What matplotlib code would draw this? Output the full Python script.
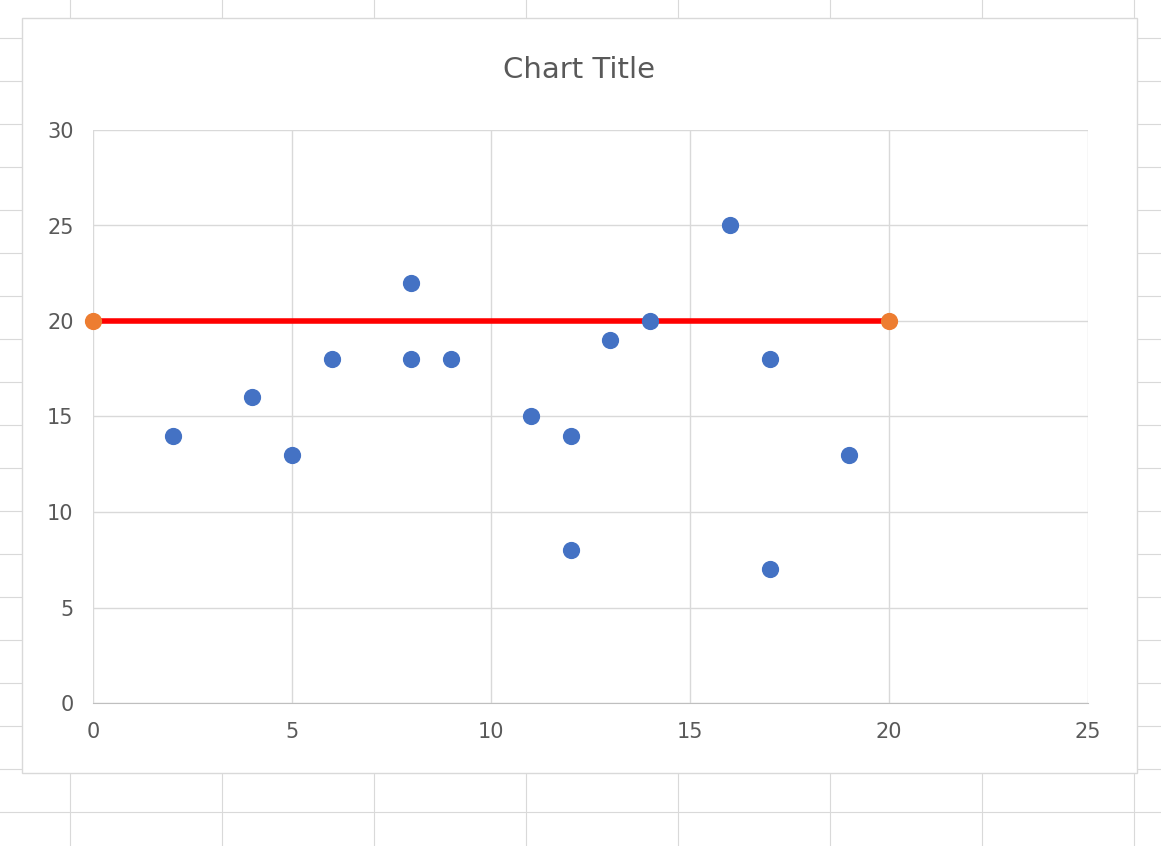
import matplotlib.pyplot as plt
from matplotlib.patches import Rectangle
from matplotlib.lines import Line2D

x_vals = [2, 4, 5, 6, 8, 8, 9, 11, 12, 12, 13, 14, 16, 17, 17, 19]
y_vals = [14, 16, 13, 18, 22, 18, 18, 15, 14, 8, 19, 20, 25, 18, 7, 13]
line_x = [0, 20]
line_y = [20, 20]

W, H = 1161, 846
fig = plt.figure(figsize=(W / 100, H / 100), dpi=100)

# spreadsheet cell grid in the background
for px in [70, 222, 374, 526, 678, 830, 982, 1134]:
    fig.add_artist(Line2D([px / W, px / W], [0, 1], color="#d9d9d9", lw=0.8, zorder=-3))
for py in range(38, H, 43):
    fig.add_artist(Line2D([0, 1], [1 - py / H, 1 - py / H], color="#d9d9d9", lw=0.8, zorder=-3))

# chart area
fig.add_artist(Rectangle((22 / W, 1 - 773 / H), (1137 - 22) / W, (773 - 18) / H,
                         facecolor="white", edgecolor="#d9d9d9", lw=1, zorder=-2))

ax = fig.add_axes([93 / W, (H - 703) / H, 995 / W, 573 / H])
ax.patch.set_visible(False)
ax.set_xlim(0, 25)
ax.set_ylim(0, 30)
ax.set_xticks(range(0, 26, 5))
ax.set_yticks(range(0, 31, 5))
ax.grid(True, color="#d9d9d9", lw=1)
ax.set_axisbelow(True)
for s in ax.spines.values():
    s.set_visible(False)
ax.spines["bottom"].set_visible(True)
ax.spines["bottom"].set_color("#bfbfbf")
ax.tick_params(length=0, labelsize=15, labelcolor="#595959", pad=14)

ax.scatter(x_vals, y_vals, s=130, color="#4472c4", zorder=3)
ax.plot(line_x, line_y, color="#ff0000", lw=4, zorder=2)
ax.scatter(line_x, line_y, s=130, color="#ed7d31", zorder=4, clip_on=False)

fig.text(579 / W, 1 - 70 / H, "Chart Title", ha="center", va="center",
         fontsize=21, color="#595959")

fig.savefig("out.png", dpi=100)
